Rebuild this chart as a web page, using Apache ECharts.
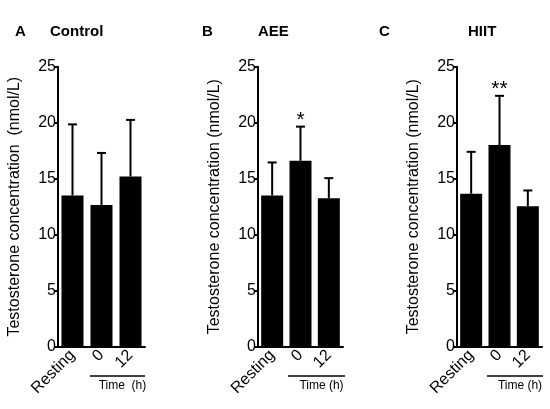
<!DOCTYPE html>
<html><head><meta charset="utf-8">
<script src="https://cdn.jsdelivr.net/npm/echarts@6/dist/echarts.min.js"></script>
<style>html,body{margin:0;padding:0;background:#fff}#c{width:550px;height:409px}</style>
</head><body><div id="c"></div>
<script>
var categories = ['Resting', '0', '12'];
var yTicks = [0, 5, 10, 15, 20, 25];
var panelLetters = ['A', 'B', 'C'];
var panelTitles = ['Control', 'AEE', 'HIIT'];
var yNames = ['Testosterone concentration  (nmol/L)', 'Testosterone concentration (nmol/L)', 'Testosterone concentration (nmol/L)'];
var controlMean = [13.5, 12.65, 15.2];
var controlUpper = [19.85, 17.3, 20.25];
var aeeMean = [13.5, 16.6, 13.25];
var aeeUpper = [16.45, 19.65, 15.05];
var hiitMean = [13.65, 18.0, 12.55];
var hiitUpper = [17.4, 22.4, 13.95];
var controlSig = ['', '', ''];
var aeeSig = ['', '*', ''];
var hiitSig = ['', '**', ''];

var means = [controlMean, aeeMean, hiitMean];
var uppers = [controlUpper, aeeUpper, hiitUpper];
var sigs = [controlSig, aeeSig, hiitSig];

var grids = [
  {left: 58, top: 66.7, width: 87, height: 280},
  {left: 258, top: 66.7, width: 85, height: 280},
  {left: 457, top: 66.7, width: 85, height: 280}
];
var font = 'Liberation Sans, Arial, sans-serif';

var chart = echarts.init(document.getElementById('c'));
var option = {
  backgroundColor: '#fff',
  animation: false,
  grid: grids,
  xAxis: [], yAxis: [], series: [], graphic: [],
  title: []
};
var letterX = [10, 197, 374];
var titleX = [45, 253, 463];
for (var i = 0; i < 3; i++) {
  option.title.push({text: panelLetters[i], left: letterX[i], top: 19,
    textStyle: {fontFamily: font, fontSize: 15, fontWeight: 'bold', color: '#000'}});
  option.title.push({text: panelTitles[i], left: titleX[i], top: 19,
    textStyle: {fontFamily: font, fontSize: 15, fontWeight: 'bold', color: '#000'}});
  option.xAxis.push({
    type: 'category', gridIndex: i, data: categories,
    axisLine: {lineStyle: {color: '#000', width: 2}},
    axisTick: {alignWithLabel: true, length: 4, lineStyle: {color: '#000', width: 2}},
    axisLabel: {rotate: 45, margin: 6, color: '#000', fontFamily: font, fontSize: 16, interval: 0}
  });
  option.yAxis.push({
    type: 'value', gridIndex: i, min: yTicks[0], max: yTicks[yTicks.length - 1], interval: 5,
    splitLine: {show: false},
    axisLine: {show: true, lineStyle: {color: '#000', width: 2}},
    axisTick: {show: true, length: 4, lineStyle: {color: '#000', width: 2}},
    axisLabel: {color: '#000', fontFamily: font, fontSize: 16, margin: 2},
    name: yNames[i], nameLocation: 'middle', nameGap: 35,
    nameTextStyle: {color: '#000', fontFamily: font, fontSize: 16}
  });
  option.series.push({
    type: 'bar', xAxisIndex: i, yAxisIndex: i, data: means[i], barWidth: 22,
    itemStyle: {color: '#000'}
  });
  (function (idx) {
    var data = means[idx].map(function (m, j) { return [j, m, uppers[idx][j]]; });
    option.series.push({
      type: 'custom', xAxisIndex: idx, yAxisIndex: idx, data: data, z: 5,
      renderItem: function (params, api) {
        var x = api.value(0), m = api.value(1), u = api.value(2);
        var p0 = api.coord([x, m]);
        var p1 = api.coord([x, u]);
        var cap = 4.5;
        var children = [
          {type: 'line', shape: {x1: p0[0], y1: p0[1], x2: p1[0], y2: p1[1]}, style: {stroke: '#000', lineWidth: 2}},
          {type: 'line', shape: {x1: p1[0] - cap, y1: p1[1], x2: p1[0] + cap, y2: p1[1]}, style: {stroke: '#000', lineWidth: 2}}
        ];
        var s = sigs[idx][params.dataIndex];
        if (s) {
          children.push({type: 'text', x: p1[0], y: p1[1] + 4,
            style: {text: s, fill: '#000', font: '21px ' + font, align: 'center', verticalAlign: 'bottom'}});
        }
        return {type: 'group', children: children};
      }
    });
  })(i);
}
var lineSpan = [[90, 145], [288, 345], [487, 543]];
for (var k = 0; k < 3; k++) {
  option.graphic.push({type: 'line', shape: {x1: lineSpan[k][0], y1: 376, x2: lineSpan[k][1], y2: 376},
    style: {stroke: '#000', lineWidth: 1.5}});
  option.graphic.push({type: 'text', x: (lineSpan[k][0] + lineSpan[k][1]) / 2 + 5, y: 386,
    style: {text: k === 0 ? 'Time  (h)' : 'Time (h)', fill: '#000', font: '12px ' + font, align: 'center', verticalAlign: 'middle'}});
}
chart.setOption(option);
</script></body></html>
